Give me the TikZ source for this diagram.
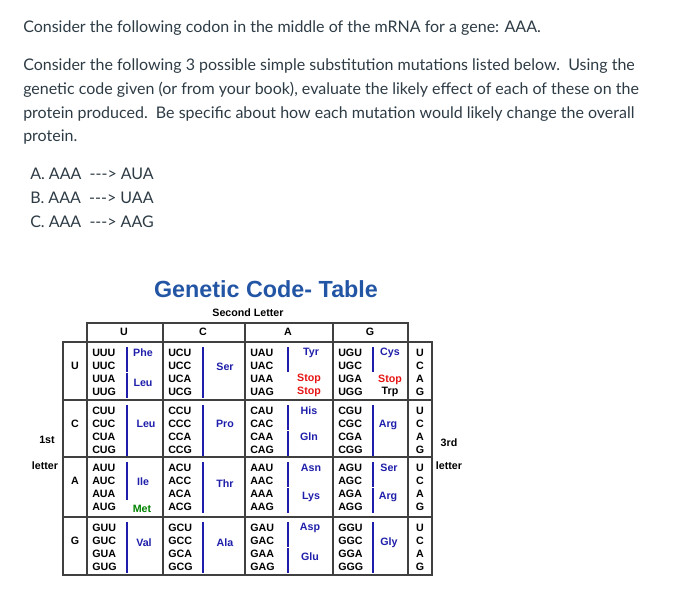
\documentclass[tikz,border=0pt]{standalone}
\usepackage{fontspec}
\setmainfont{Lato}
\newfontfamily\arialf{Liberation Sans}
\definecolor{txt}{HTML}{2D3B45}
\definecolor{ttl}{RGB}{35,85,165}
\definecolor{aa}{RGB}{30,30,170}
\definecolor{stp}{RGB}{230,20,20}
\definecolor{met}{RGB}{0,130,0}
\begin{document}
\begin{tikzpicture}[x=0.75pt,y=-0.75pt,
  para/.style={anchor=west,inner sep=0,text=txt,font=\fontsize{12}{14}\selectfont},
  cod/.style={anchor=west,inner sep=0,font=\arialf\bfseries\fontsize{8}{9}\selectfont},
  lab/.style={inner sep=0,font=\arialf\bfseries\fontsize{8}{9}\selectfont},
  am/.style={lab,text=aa},
  bar/.style={draw=aa,line width=1.4pt},
  grid/.style={draw=black!75,line width=0.8pt}]
\useasboundingbox (0,0) rectangle (685,600);
\node[para] (p1) at (23,28) {Consider the following codon in the middle of the mRNA for a gene: AAA.};
\node[para] (p2) at (23,66) {Consider the following 3 possible simple substitution mutations listed below.\ \ Using the};
\node[para] (p3) at (23,90) {genetic code given (or from your book), evaluate the likely effect of each of these on the};
\node[para] (p4) at (23,114) {protein produced.\ \ Be specific about how each mutation would likely change the overall};
\node[para] (p5) at (23,137) {protein.};
\node[para] (ma) at (30,174) {A. AAA\ \ -{}-{}-{}>\ AUA};
\node[para] (mb) at (30,198) {B. AAA\ \ -{}-{}-{}>\ UAA};
\node[para] (mc) at (30,222) {C. AAA\ \ -{}-{}-{}>\ AAG};
\node[inner sep=0,text=ttl,font=\arialf\bfseries\fontsize{17.5}{20}\selectfont] (title) at (266,289) {Genetic Code- Table};
\node[lab] (second) at (248,313) {Second Letter};
% grid
\draw[grid] (87,323) rectangle (408,342);
\draw[grid] (63,342) rectangle (432,575);
\foreach \x in {87,163,245,333,408} \draw[grid] (\x,323) -- (\x,575);
\foreach \y in {400,457,517} \draw[grid] (63,\y) -- (432,\y);
\node[lab] (hU) at (124,332) {U};
\node[lab] (hC) at (203,332) {C};
\node[lab] (hA) at (288,332) {A};
\node[lab] (hG) at (370,332) {G};
\node[lab] (first) at (47,440) {1st};
\node[lab] (fl) at (45,466) {letter};
\node[lab] (third) at (449,443) {3rd};
\node[lab] (tl) at (449,466) {letter};
\foreach \f [count=\i] in {U,C,A,G}{
  \pgfmathsetmacro\T{{342,400,457,517}[\i-1]}
  \node[lab] (r\f) at (75,\T+24) {\f};
  \foreach \t [count=\k] in {U,C,A,G}{
    \node[lab] (t\f\t) at (420,\T-2+13*\k) {\t};
    \foreach \s [count=\j] in {U,C,A,G}{
      \pgfmathsetmacro\X{{87,163,245,333}[\j-1]}
      \node[cod] (c\f\s\t) at (\X+5,\T-2+13*\k) {\f\s\t};
    }
  }
}
% bars: x, y1, y2
\foreach \x/\a/\b in {127/347/372,127/373/398,203/347/398,288/347/372,373/347/372,
  127/405/456,203/405/456,288/405/430,288/431/456,373/405/456,
  127/462/500,203/462/513,288/462/487,288/488/513,373/462/487,373/488/513,
  127/522/573,203/522/573,288/522/547,288/548/573,373/522/573}
  \draw[bar] (\x,\a) -- (\x,\b);
\node[am] (phe) at (143,353) {Phe};
\node[am] (leu1) at (143,383) {Leu};
\node[am] (ser1) at (225,367) {Ser};
\node[am] (tyr) at (311,353) {Tyr};
\node[lab,text=stp] (stop1) at (309,379) {Stop};
\node[lab,text=stp] (stop2) at (309,392) {Stop};
\node[am] (cys) at (390,353) {Cys};
\node[lab,text=stp] (stop3) at (390,380) {Stop};
\node[lab] (trp) at (390,392) {Trp};
\node[am] (leu2) at (146,424) {Leu};
\node[am] (pro) at (225,424) {Pro};
\node[am] (his) at (309,411) {His};
\node[am] (gln) at (309,437) {Gln};
\node[am] (arg1) at (388,425) {Arg};
\node[am] (ile) at (143,482) {Ile};
\node[lab,text=met] (met) at (142,509) {Met};
\node[am] (thr) at (225,484) {Thr};
\node[am] (asn) at (311,468) {Asn};
\node[am] (lys) at (311,497) {Lys};
\node[am] (ser2) at (389,468) {Ser};
\node[am] (arg2) at (388,497) {Arg};
\node[am] (val) at (144,543) {Val};
\node[am] (ala) at (225,543) {Ala};
\node[am] (asp) at (310,528) {Asp};
\node[am] (glu) at (310,557) {Glu};
\node[am] (gly) at (389,543) {Gly};
\end{tikzpicture}
\end{document}
